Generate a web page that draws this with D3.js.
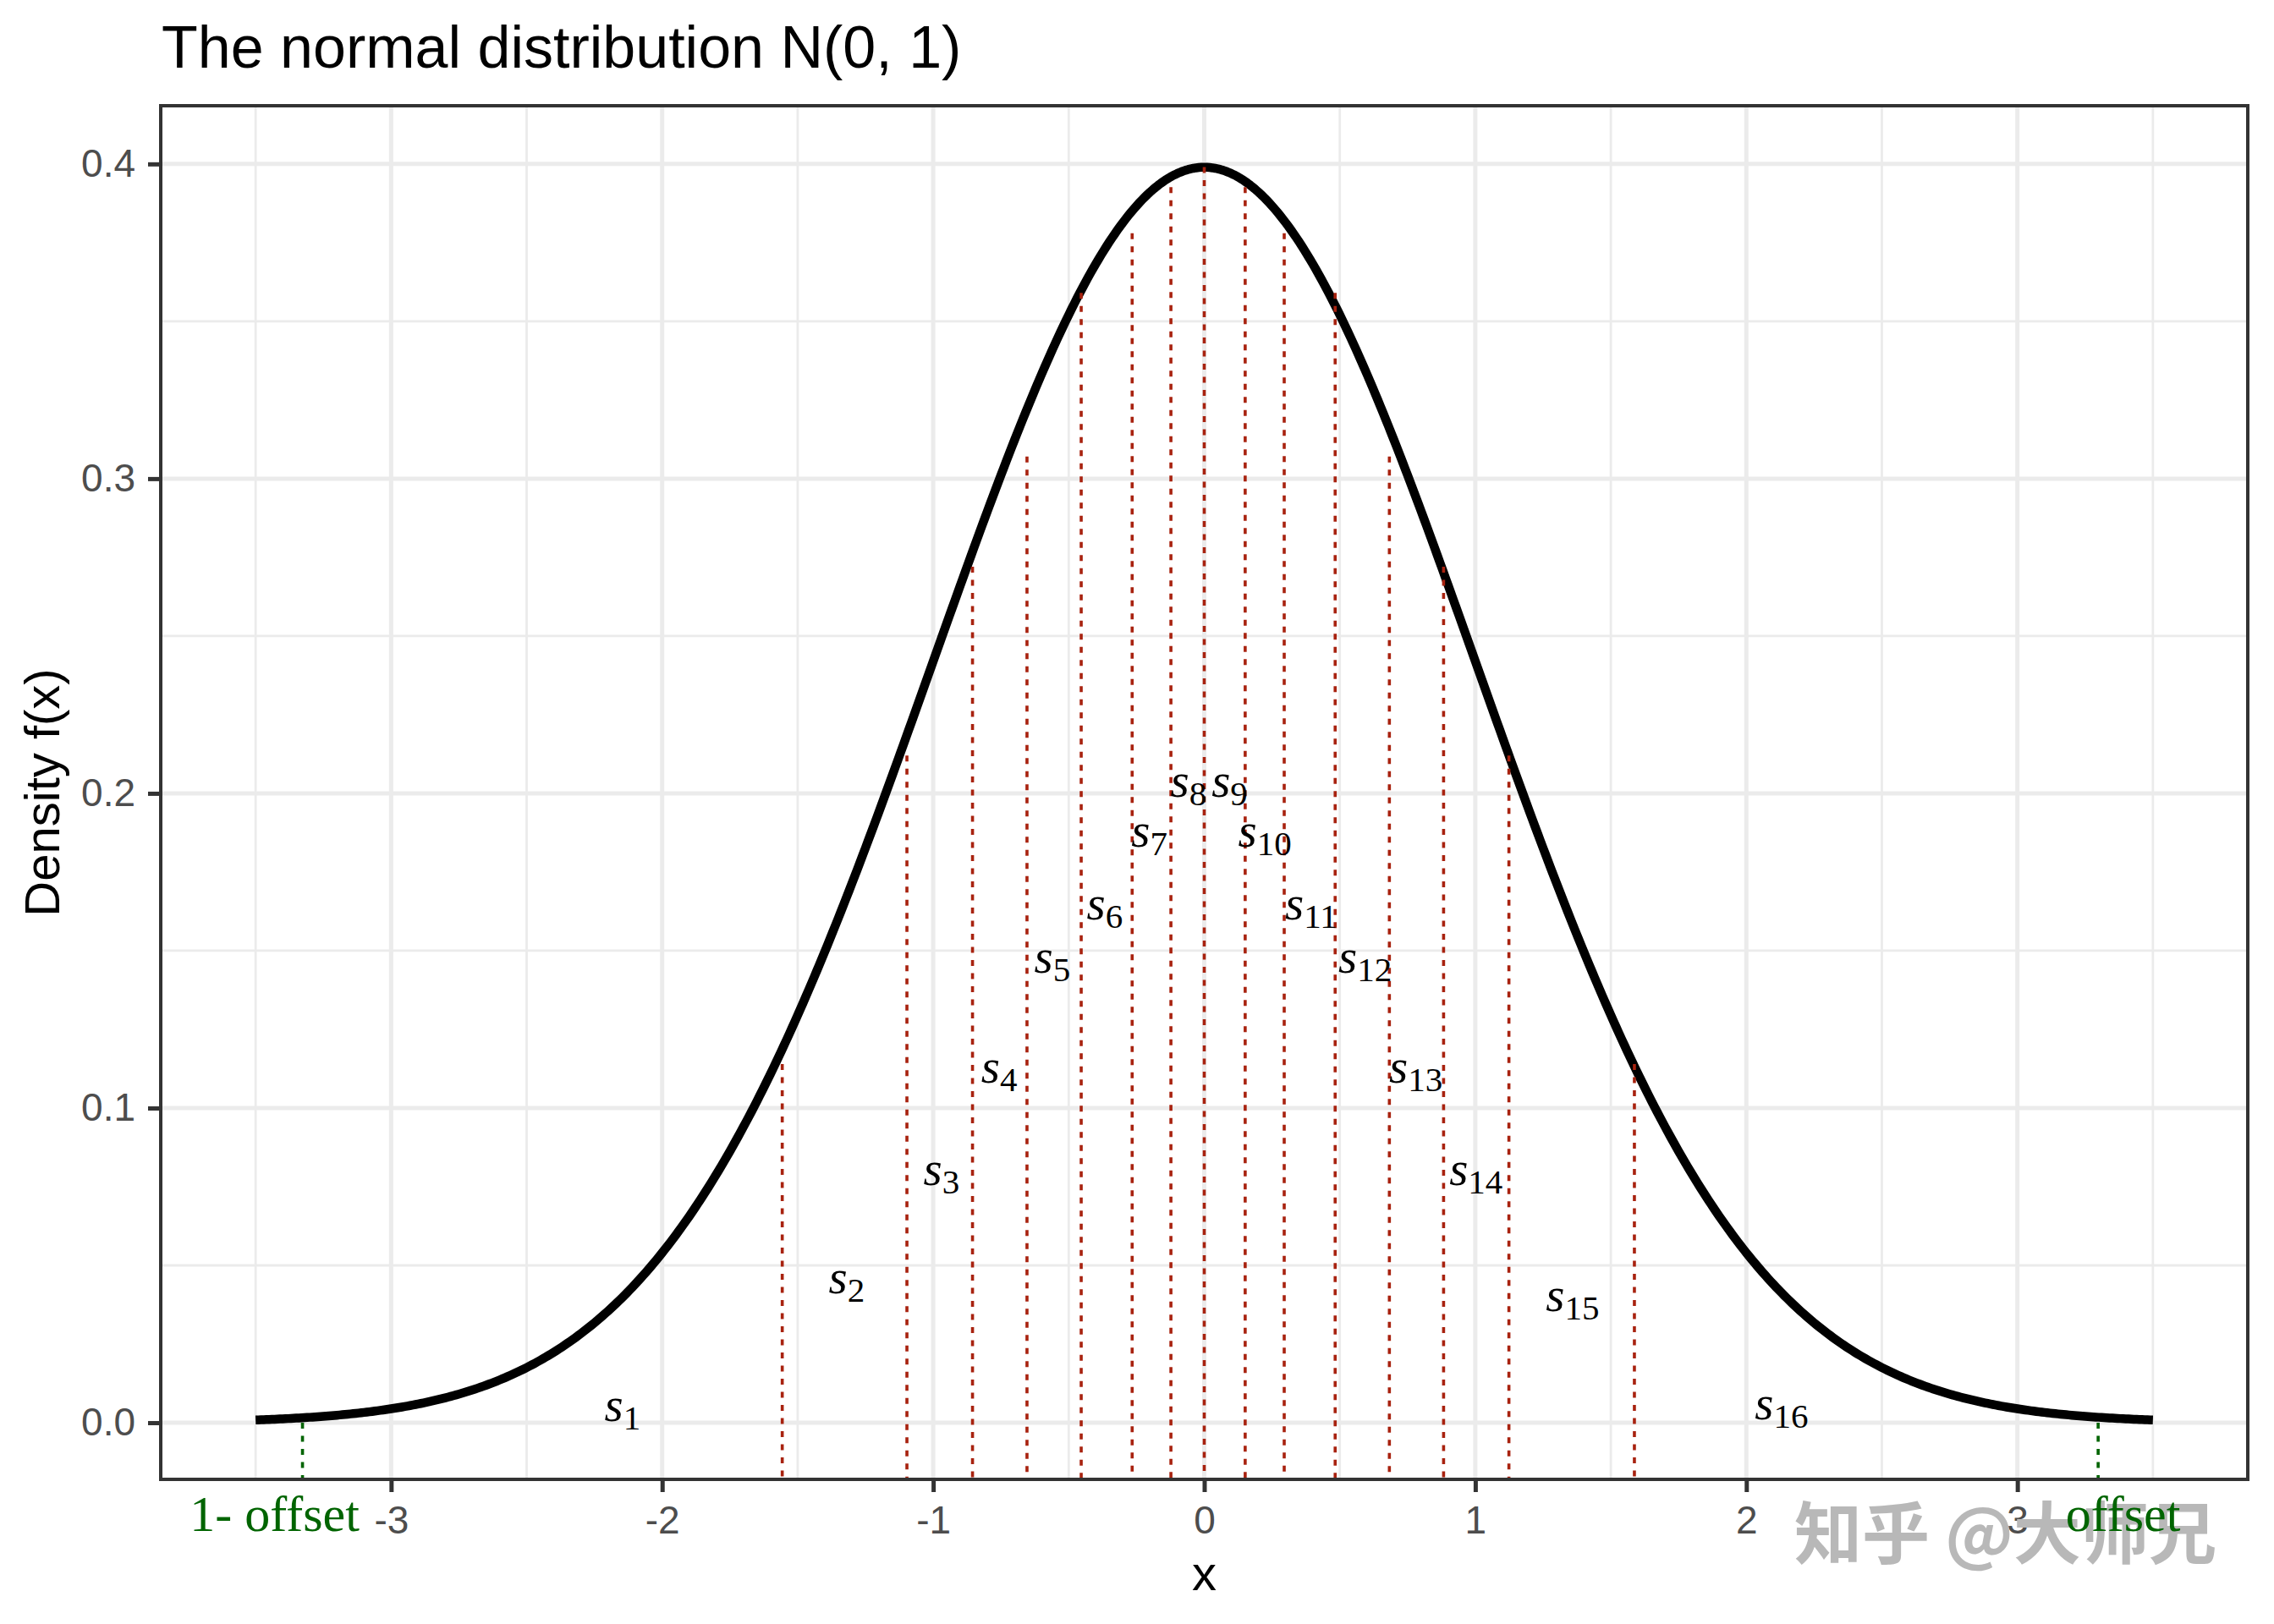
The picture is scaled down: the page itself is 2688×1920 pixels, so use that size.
<!DOCTYPE html>
<html>
<head>
<meta charset="utf-8">
<script src="https://cdn.jsdelivr.net/npm/d3@7"></script>
<style>
  html, body { margin: 0; padding: 0; background: #ffffff; }
  svg { display: block; }
</style>
</head>
<body>
<svg id="chart" width="2688" height="1920"></svg>
<script>
// ---------------- data ----------------
const titleText = "The normal distribution N(0, 1)";
const xTicks = [-3, -2, -1, 0, 1, 2, 3];
const xTickLabels = ["-3", "-2", "-1", "0", "1", "2", "3"];
const xMinor = [-3.5, -2.5, -1.5, -0.5, 0.5, 1.5, 2.5, 3.5];
const yTicks = [0, 0.1, 0.2, 0.3, 0.4];
const yTickLabels = ["0.0", "0.1", "0.2", "0.3", "0.4"];
const yMinor = [0.05, 0.15, 0.25, 0.35];
const curveRange = [-3.5, 3.5];          // x extent of the density curve
// red dashed cut lines (x position and height reached)
const cutX   = [-1.557, -1.097, -0.855, -0.654, -0.454, -0.266, -0.123, 0.0,
                 0.151, 0.295, 0.483, 0.683, 0.883, 1.124, 1.587];
const cutTop = [0.114, 0.212, 0.272, 0.307, 0.359, 0.378, 0.3926, 0.399,
                0.3926, 0.378, 0.359, 0.307, 0.272, 0.212, 0.114];
// green offset lines
const offsetX = [-3.327, 3.298];
const offsetLabels = ["1- offset", "offset"];
const offsetLabelX = [-3.43, 3.39];
// segment labels s_1 ... s_16
const segSub = ["1","2","3","4","5","6","7","8","9","10","11","12","13","14","15","16"];
const segX = [-2.213, -1.386, -1.036, -0.823, -0.627, -0.434, -0.269, -0.125,
               0.027, 0.125, 0.298, 0.495, 0.682, 0.904, 1.260, 2.031];
const segY = [0.0005, 0.041, 0.0755, 0.108, 0.143, 0.160, 0.183, 0.199,
              0.199, 0.183, 0.160, 0.143, 0.108, 0.0755, 0.0355, 0.001];
const xTitle = "x";
const yTitle = "Density f(x)";
const watermark = "知乎 @大师兄";

// ---------------- layout ----------------
const svg = d3.select("#chart");
const P = { left: 190, right: 2657, top: 125, bottom: 1749 };
const x = d3.scaleLinear().domain([-3.85, 3.85]).range([P.left, P.right]);
const y = d3.scaleLinear().domain([-0.018, 0.4185]).range([P.bottom, P.top]);
const SANS = "'Liberation Sans', Arial, Helvetica, sans-serif";
const SERIF = "'Liberation Serif', 'Times New Roman', serif";
const RED = "#a8220f";
const GREEN = "#006400";

svg.append("rect").attr("width", 2688).attr("height", 1920).attr("fill", "#fff");

// clip for panel
svg.append("clipPath").attr("id", "panel").append("rect")
  .attr("x", P.left).attr("y", P.top)
  .attr("width", P.right - P.left).attr("height", P.bottom - P.top);

const panel = svg.append("g").attr("clip-path", "url(#panel)");
const grid = panel.append("g");
// minor grid
grid.selectAll(".vmin").data(xMinor).join("line")
  .attr("x1", d => x(d)).attr("x2", d => x(d)).attr("y1", P.top).attr("y2", P.bottom)
  .attr("stroke", "#ebebeb").attr("stroke-width", 2.8);
grid.selectAll(".hmin").data(yMinor).join("line")
  .attr("y1", d => y(d)).attr("y2", d => y(d)).attr("x1", P.left).attr("x2", P.right)
  .attr("stroke", "#ebebeb").attr("stroke-width", 2.8);
// major grid
grid.selectAll(".vmaj").data(xTicks).join("line")
  .attr("x1", d => x(d)).attr("x2", d => x(d)).attr("y1", P.top).attr("y2", P.bottom)
  .attr("stroke", "#ebebeb").attr("stroke-width", 5);
grid.selectAll(".hmaj").data(yTicks).join("line")
  .attr("y1", d => y(d)).attr("y2", d => y(d)).attr("x1", P.left).attr("x2", P.right)
  .attr("stroke", "#ebebeb").attr("stroke-width", 5);

// density curve (standard normal pdf)
const pdf = v => Math.exp(-v * v / 2) / Math.sqrt(2 * Math.PI);
const xs = d3.range(curveRange[0], curveRange[1] + 1e-9, 0.01);
panel.append("path")
  .datum(xs)
  .attr("fill", "none").attr("stroke", "#000").attr("stroke-width", 10.5)
  .attr("stroke-linejoin", "round")
  .attr("d", d3.line().x(d => x(d)).y(d => y(pdf(d))));

// red dashed cut lines (drawn from the top downwards)
panel.selectAll(".cut").data(cutX).join("line")
  .attr("x1", d => x(d)).attr("x2", d => x(d))
  .attr("y1", (d, i) => y(cutTop[i])).attr("y2", P.bottom)
  .attr("stroke", RED).attr("stroke-width", 3.6)
  .attr("stroke-dasharray", "7,8.5");

// green offset lines
panel.selectAll(".off").data(offsetX).join("line")
  .attr("x1", d => x(d)).attr("x2", d => x(d))
  .attr("y1", y(0)).attr("y2", P.bottom)
  .attr("stroke", GREEN).attr("stroke-width", 3.6)
  .attr("stroke-dasharray", "7,8.5");

// segment labels
const lab = panel.selectAll(".seg").data(segSub).join("text")
  .attr("x", (d, i) => x(segX[i])).attr("y", (d, i) => y(segY[i]))
  .attr("font-family", SERIF).attr("fill", "#000");
lab.append("tspan").attr("font-style", "italic").attr("font-size", 57).text("s");
lab.append("tspan").attr("font-size", 41).attr("dy", 10).text(d => d);

// panel border
svg.append("rect")
  .attr("x", P.left).attr("y", P.top)
  .attr("width", P.right - P.left).attr("height", P.bottom - P.top)
  .attr("fill", "none").attr("stroke", "#333333").attr("stroke-width", 4);

// axes
const xAxis = svg.append("g").attr("transform", `translate(0,${P.bottom})`)
  .call(d3.axisBottom(x).tickValues(xTicks).tickSize(15).tickPadding(16)
    .tickFormat((d, i) => xTickLabels[i]));
const yAxis = svg.append("g").attr("transform", `translate(${P.left},0)`)
  .call(d3.axisLeft(y).tickValues(yTicks).tickSize(15).tickPadding(15)
    .tickFormat((d, i) => yTickLabels[i]));
[xAxis, yAxis].forEach(a => {
  a.select(".domain").remove();
  a.selectAll(".tick line").attr("stroke", "#333333").attr("stroke-width", 5);
  a.selectAll(".tick text").attr("fill", "#4d4d4d")
    .attr("font-family", SANS).attr("font-size", 46);
});

// watermark
svg.append("text")
  .attr("x", 2121).attr("y", 1842)
  .attr("font-family", "'Noto Sans CJK SC', sans-serif")
  .attr("font-size", 80).attr("font-weight", 700)
  .attr("fill", "#b8b8b8")
  .attr("textLength", 499).attr("lengthAdjust", "spacingAndGlyphs")
  .text(watermark);

// offset labels (green)
svg.selectAll(".offlab").data(offsetLabels).join("text")
  .attr("x", (d, i) => x(offsetLabelX[i])).attr("y", 1810)
  .attr("text-anchor", "middle")
  .attr("font-family", SERIF).attr("font-size", 60).attr("fill", GREEN)
  .text(d => d);

// axis titles
svg.append("text").attr("x", (P.left + P.right) / 2).attr("y", 1880)
  .attr("text-anchor", "middle").attr("font-family", SANS).attr("font-size", 58)
  .attr("fill", "#000").text(xTitle);
svg.append("text")
  .attr("transform", `translate(70,${(P.top + P.bottom) / 2}) rotate(-90)`)
  .attr("text-anchor", "middle").attr("font-family", SANS).attr("font-size", 58)
  .attr("fill", "#000").text(yTitle);

// title
svg.append("text").attr("x", 191).attr("y", 80)
  .attr("font-family", SANS).attr("font-size", 70).attr("fill", "#000")
  .text(titleText);
</script>
</body>
</html>
